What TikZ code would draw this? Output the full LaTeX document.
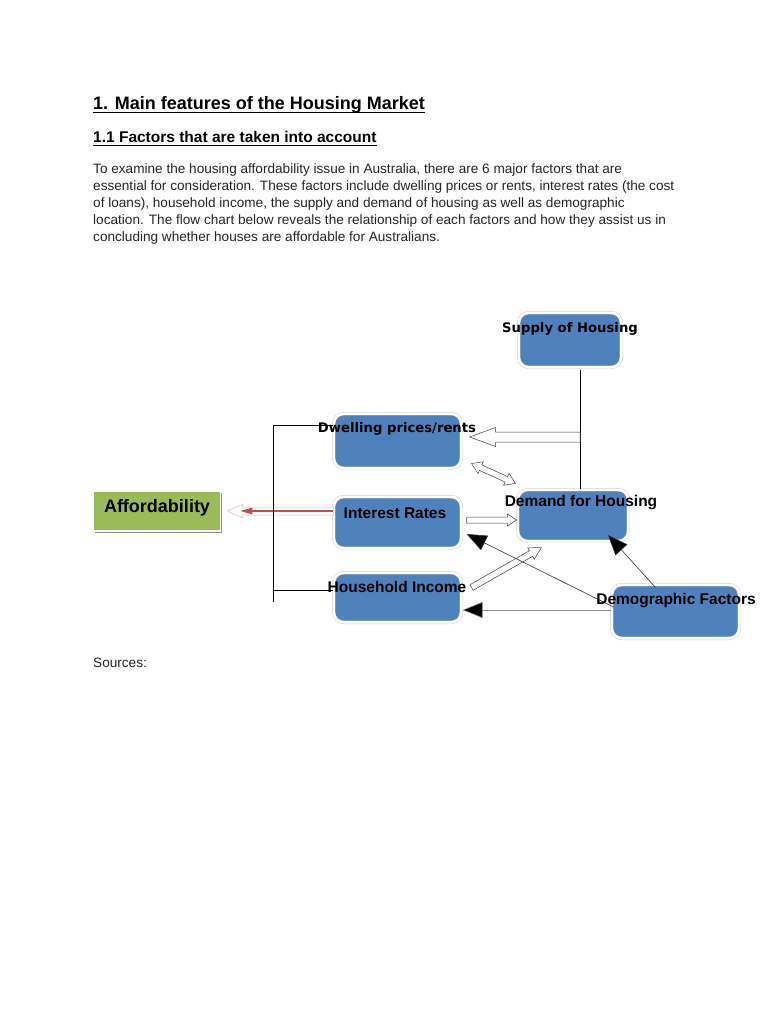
\documentclass[tikz,border=0pt]{standalone}
\usepackage{fontspec}
\setmainfont{Liberation Sans}
\newfontfamily\dejavu{DejaVu Sans}
\usetikzlibrary{arrows.meta,calc,shadows}

\definecolor{boxblue}{HTML}{4F81BD}
\definecolor{boxgreen}{HTML}{9BBB59}
\definecolor{linkred}{HTML}{C0504D}

\tikzset{
  blockarrow/.style n args={3}{fill=white,draw=black!75,line width=0.5pt,to path={
    ($(\tikztostart)!#1!90:(\tikztotarget)$)
    -- ($(\tikztotarget)!#3!(\tikztostart)!#1!-90:(\tikztostart)$)
    -- ($(\tikztotarget)!#3!(\tikztostart)!#2!-90:(\tikztostart)$)
    -- (\tikztotarget)
    -- ($(\tikztotarget)!#3!(\tikztostart)!#2!90:(\tikztostart)$)
    -- ($(\tikztotarget)!#3!(\tikztostart)!#1!90:(\tikztostart)$)
    -- ($(\tikztostart)!#1!-90:(\tikztotarget)$)
    -- cycle}},
  dblockarrow/.style n args={3}{fill=white,draw=black!75,line width=0.5pt,to path={
    (\tikztostart)
    -- ($(\tikztostart)!#3!(\tikztotarget)!#2!90:(\tikztotarget)$)
    -- ($(\tikztostart)!#3!(\tikztotarget)!#1!90:(\tikztotarget)$)
    -- ($(\tikztotarget)!#3!(\tikztostart)!#1!-90:(\tikztostart)$)
    -- ($(\tikztotarget)!#3!(\tikztostart)!#2!-90:(\tikztostart)$)
    -- (\tikztotarget)
    -- ($(\tikztotarget)!#3!(\tikztostart)!#2!90:(\tikztostart)$)
    -- ($(\tikztotarget)!#3!(\tikztostart)!#1!90:(\tikztostart)$)
    -- ($(\tikztostart)!#3!(\tikztotarget)!#1!-90:(\tikztotarget)$)
    -- ($(\tikztostart)!#3!(\tikztotarget)!#2!-90:(\tikztotarget)$)
    -- cycle}},
}

\begin{document}
\begin{tikzpicture}[x=1pt,y=-1pt,
  box/.style={rounded corners=10pt,fill=boxblue,draw=black!18,double=white,
    double distance=2.4pt,line width=0.5pt,inner sep=0pt,minimum width=127.6pt},
  boxlabel/.style={inner sep=0pt,font=\fontsize{15.5}{15.5}\selectfont\bfseries},
  dvlabel/.style={inner sep=0pt,font=\dejavu\fontsize{13.2}{13.2}\selectfont\bfseries},
  bodytext/.style={inner sep=0pt,anchor=base west,text=black!85,font=\fontsize{13.6}{17}\selectfont},
  pointer/.style={draw=black!80,line width=0.6pt,-{Triangle[length=20pt,width=16pt,fill=black]}}]
  \useasboundingbox[fill=white] (0,0) rectangle (768,1024);

  % heading and text
  \node[inner sep=0pt,anchor=base west,font=\fontsize{18}{18}\selectfont\bfseries] (title) at (93,110) {1. Main features of the Housing Market};
  \draw[line width=1.1pt] ([yshift=-2.6pt]title.base west) -- ([yshift=-2.6pt]title.base east);
  \node[inner sep=0pt,anchor=base west,font=\fontsize{15.5}{15.5}\selectfont\bfseries] (subtitle) at (93,142.5) {1.1 Factors that are taken into account};
  \draw[line width=1pt] ([yshift=-2.8pt]subtitle.base west) -- ([yshift=-2.8pt]subtitle.base east);
  \foreach \txt [count=\i] in {
    {To examine the housing affordability issue in Australia, there are 6 major factors that are},
    {essential for consideration. These factors include dwelling prices or rents, interest rates (the cost},
    {of loans), household income, the supply and demand of housing as well as demographic},
    {location. The flow chart below reveals the relationship of each factors and how they assist us in},
    {concluding whether houses are affordable for Australians.}}
    \node[bodytext] (line\i) at (93,{173.5+17*(\i-1)}) {\txt};
  \node[bodytext] (sources) at (93,667) {Sources:};

  % boxes
  \node[box,minimum width=102.6pt,minimum height=54.6pt] (supply) at (570,340) {};
  \node[box,minimum height=54.6pt] (dwelling) at (397.5,441) {};
  \node[box,minimum height=51.6pt] (interest) at (397.5,522.5) {};
  \node[box,minimum height=49.6pt] (income) at (397.5,597.5) {};
  \node[box,minimum width=110.6pt,minimum height=51.6pt] (demand) at (573,515.5) {};
  \node[box,minimum width=127.6pt,minimum height=53.6pt] (demo) at (675.5,611.5) {};
  \node[fill=boxgreen,draw=white,line width=1.6pt,minimum width=127pt,minimum height=40pt,
    drop shadow={shadow xshift=1.8pt,shadow yshift=-1.8pt,fill=black!45,opacity=1}] (afford) at (157,511) {};

  % connectors
  \coordinate (supplyfoot) at ([xshift=10pt,yshift=-2pt]supply.south);
  \coordinate (supplyjoin) at ([yshift=4pt]supplyfoot |- dwelling.east);
  \draw[line width=0.6pt] (supplyfoot) -- (supplyfoot |- demand.north);
  \draw[blockarrow={5pt}{9.5pt}{26pt}] (supplyjoin) to ($(dwelling.east)+(8,-4)$);
  \draw[dblockarrow={3pt}{6.5pt}{10pt}] ($(dwelling.south east)+(10,-5)$) to ($(demand.north west)+(-2,-6)$);
  \draw[blockarrow={3pt}{6pt}{9pt}] ($(interest.east)+(5,-2.5)$) to ($(demand.west)+(-1,4.5)$);
  \draw[blockarrow={3.2pt}{6.5pt}{12pt}] ($(income.east)+(10,-10)$) to ($(demand.south west)+(24,6)$);
  \draw[pointer] ($(demo.west)+(2,-4.5)$) -- ($(interest.east)+(5,11.5)$);
  \draw[pointer] ($(demo.north)+(-20,3)$) -- ($(demand.south)+(35,-6.5)$);
  \draw[pointer,draw=black!45] ($(demo.west)+(0,-1.5)$) -- ($(income.east)+(1,12.5)$);
  \draw[blockarrow={4pt}{6.5pt}{15pt},draw=linkred!45] (interest.west |- afford.center) to ($(afford.east)+(6,0)$);
  \draw[linkred,line width=1.2pt,-{Triangle[length=12pt,width=6.5pt]}] (interest.west |- afford.center) -- ($(afford.east)+(19,0)$);
  \coordinate (bracket) at ($(dwelling.west)+(-60,-16)$);
  \draw[line width=0.6pt] (dwelling.west |- bracket) -- (bracket) -- ++(0,177);
  \draw[line width=0.6pt] ($(income.west)+(-60,-7)$) -- ($(income.west)+(0,-7)$);

  % labels
  \node[dvlabel] (supplytext) at (570,329) {Supply of Housing};
  \node[dvlabel] (dwellingtext) at (397,429) {Dwelling prices/rents};
  \node[boxlabel] (interesttext) at (395,513) {Interest Rates};
  \node[boxlabel] (incometext) at (397,587) {Household Income};
  \node[boxlabel] (demandtext) at (581,503) {Demand for Housing};
  \node[boxlabel] (demotext) at (676,601) {Demographic Factors};
  \node[inner sep=0pt,font=\fontsize{18}{18}\selectfont\bfseries] (affordtext) at (157,507.5) {Affordability};
\end{tikzpicture}
\end{document}
